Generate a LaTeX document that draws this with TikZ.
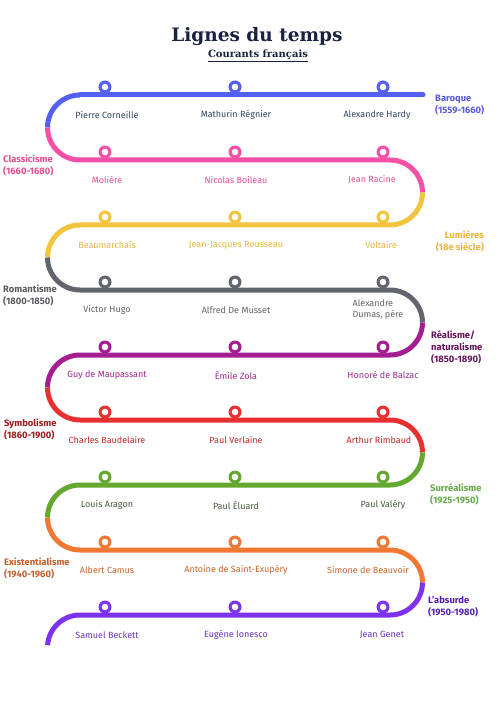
\documentclass[tikz,border=0pt]{standalone}
\usepackage{fontspec}
\setmainfont{Fira Sans}
\newfontfamily\titlefont{DejaVu Serif}
\definecolor{cBlue}{RGB}{84,96,240}
\definecolor{cPink}{RGB}{245,80,165}
\definecolor{cYellow}{RGB}{242,196,64}
\definecolor{cGrey}{RGB}{98,100,110}
\definecolor{cPurple}{RGB}{165,30,145}
\definecolor{cRed}{RGB}{232,48,48}
\definecolor{cGreen}{RGB}{100,168,48}
\definecolor{cOrange}{RGB}{240,120,50}
\definecolor{cViolet}{RGB}{125,50,240}
\definecolor{tBlue}{RGB}{50,70,95}
\definecolor{tPink}{RGB}{230,80,150}
\definecolor{tYellow}{RGB}{232,182,60}
\definecolor{tGrey}{RGB}{100,100,104}
\definecolor{tPurple}{RGB}{160,40,150}
\definecolor{tRed}{RGB}{190,40,40}
\definecolor{tGreen}{RGB}{70,90,60}
\definecolor{tOrange}{RGB}{200,100,40}
\definecolor{tViolet}{RGB}{105,50,190}
\definecolor{lBlue}{RGB}{90,90,225}
\definecolor{lPink}{RGB}{225,80,145}
\definecolor{lYellow}{RGB}{235,180,60}
\definecolor{lGrey}{RGB}{90,90,95}
\definecolor{lPurple}{RGB}{100,20,90}
\definecolor{lRed}{RGB}{160,25,30}
\definecolor{lGreen}{RGB}{100,170,70}
\definecolor{lOrange}{RGB}{195,95,40}
\definecolor{lViolet}{RGB}{85,30,180}
\definecolor{navy}{RGB}{25,35,65}
\newcommand\mkrow[7]{%
  \node[station=c#3] (s#1a) at (105,#2-8) {};
  \node[station=c#3] (s#1b) at (235,#2-8) {};
  \node[station=c#3] (s#1c) at (383,#2-8) {};
  \node[nametext, text=t#3] (n#1a) at (107,#2+20) {#4};
  \node[nametext, text=t#3] (n#1b) at (236,#2+20) {#5};
  \node[nametext, text=t#3] (n#1c) at (#7,#2+20) {#6};
}
\begin{document}
\begin{tikzpicture}[x=1pt,y=-1pt,
  track/.style={line width=5pt},
  station/.style={circle, fill=#1, minimum size=13pt, inner sep=0pt,
    path picture={\fill[white] (path picture bounding box.center) circle (3.3pt);}},
  nametext/.style={font=\fontsize{9}{11}\selectfont, inner sep=0pt, align=left},
  cat/.style={font=\fontsize{9.4}{12}\selectfont\bfseries, inner sep=0pt, align=left}]
\fill[white] (0,0) rectangle (500,708);
\useasboundingbox (0,0) rectangle (500,708);
% title
\node[text=navy, inner sep=0pt] (title) at (257,37) {\titlefont\bfseries\fontsize{18.5}{22}\selectfont Lignes du temps};
\node[text=navy, inner sep=0pt] (subtitle) at (258,56) {\titlefont\bfseries\fontsize{10}{12}\selectfont\underline{Courants français}};
% track
\draw[track, cBlue, line cap=round] (423,95) -- (80,95);
\draw[track, cBlue] (80,95) arc(270:180:32.5);
\draw[track, cPink] (47.5,127.5) arc(180:90:32.5) -- (390,160) arc(270:360:32.5);
\draw[track, cYellow] (422.5,192.5) arc(0:90:32.5) -- (80,225) arc(270:180:32.5);
\draw[track, cGrey] (47.5,257.5) arc(180:90:32.5) -- (390,290) arc(270:360:32.5);
\draw[track, cPurple] (422.5,322.5) arc(0:90:32.5) -- (80,355) arc(270:180:32.5);
\draw[track, cRed] (47.5,387.5) arc(180:90:32.5) -- (390,420) arc(270:360:32.5);
\draw[track, cGreen] (422.5,452.5) arc(0:90:32.5) -- (80,485) arc(270:180:32.5);
\draw[track, cOrange] (47.5,517.5) arc(180:90:32.5) -- (390,550) arc(270:360:32.5);
\draw[track, cViolet] (422.5,582.5) arc(0:90:32.5) -- (80,615) arc(270:184:32.5);
% stations and names
\mkrow{1}{95}{Blue}{Pierre Corneille}{Mathurin Régnier}{Alexandre Hardy}{377}
\mkrow{2}{160}{Pink}{Molière}{Nicolas Boileau}{Jean Racine}{372}
\mkrow{3}{225}{Yellow}{Beaumarchais}{Jean-Jacques Rousseau}{Voltaire}{381}
\mkrow{4}{290}{Grey}{Victor Hugo}{Alfred De Musset}{Alexandre\\Dumas, père}{378}
\mkrow{5}{355}{Purple}{Guy de Maupassant}{Émile Zola}{Honoré de Balzac}{383}
\mkrow{6}{420}{Red}{Charles Baudelaire}{Paul Verlaine}{Arthur Rimbaud}{379}
\mkrow{7}{485}{Green}{Louis Aragon}{Paul Éluard}{Paul Valéry}{383}
\mkrow{8}{550}{Orange}{Albert Camus}{Antoine de Saint-Exupéry}{Simone de Beauvoir}{368}
\mkrow{9}{615}{Violet}{Samuel Beckett}{Eugène Ionesco}{Jean Genet}{382}
% movement labels
\node[cat, text=lBlue, anchor=west] (baroque) at (435,105) {Baroque\\(1559-1660)};
\node[cat, text=lPink, anchor=west] (classicisme) at (3,165) {Classicisme\\(1660-1680)};
\node[cat, text=lYellow, anchor=east, align=right] (lumieres) at (484,241) {Lumières\\(18e siècle)};
\node[cat, text=lGrey, anchor=west] (romantisme) at (3,295) {Romantisme\\(1800-1850)};
\node[cat, text=lPurple, anchor=west] (realisme) at (431,347) {Réalisme/\\naturalisme\\(1850-1890)};
\node[cat, text=lRed, anchor=west] (symbolisme) at (4,429) {Symbolisme\\(1860-1900)};
\node[cat, text=lGreen, anchor=west] (surrealisme) at (430,494) {Surréalisme\\(1925-1950)};
\node[cat, text=lOrange, anchor=west] (existentialisme) at (4,568) {Existentialisme\\(1940-1960)};
\node[cat, text=lViolet, anchor=west] (absurde) at (428,607) {L’absurde\\(1950-1980)};
\end{tikzpicture}
\end{document}
